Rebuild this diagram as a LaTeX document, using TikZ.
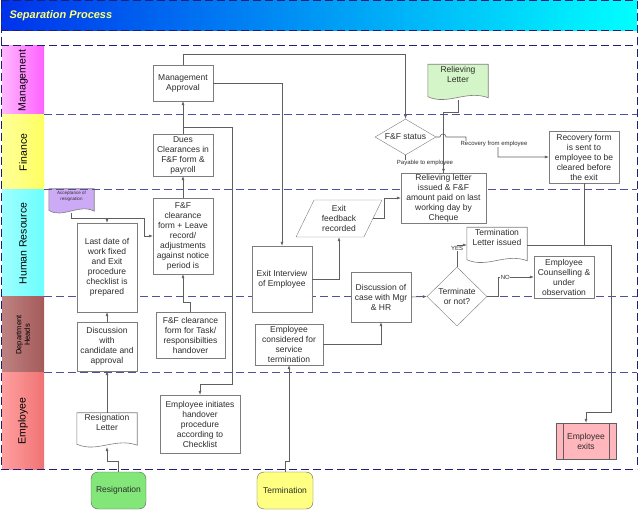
\documentclass[tikz,border=0pt]{standalone}
\usepackage{fontspec}
\setmainfont{Liberation Sans}
\usetikzlibrary{shapes.geometric,arrows.meta,calc,backgrounds}

\definecolor{framenavy}{RGB}{30,30,120}
\definecolor{lanenavy}{RGB}{80,80,160}
\definecolor{boxline}{RGB}{125,125,125}
\definecolor{boxtext}{RGB}{45,45,45}
\definecolor{connline}{RGB}{95,95,95}
\definecolor{titleyellow}{RGB}{255,255,120}
\definecolor{acceptfill}{RGB}{205,170,245}
\definecolor{relieffill}{RGB}{212,245,200}
\definecolor{resignfill}{RGB}{130,230,120}
\definecolor{termfill}{RGB}{255,255,130}
\definecolor{exitfill}{RGB}{255,182,188}

% outline of a document symbol behind node #1, filled with #2
\newcommand{\docoutline}[2]{%
  \begin{scope}[on background layer]
    \path[draw=boxline,fill=#2,line width=0.6pt] (#1.north west) -- (#1.north east)
      -- ($(#1.south east)+(0,-2)$) .. controls ($(#1.south)+(8,-10)$) and ($(#1.south)+(-10,6)$) .. ($(#1.south west)+(0,-3)$) -- cycle;
  \end{scope}}

\begin{document}
\begin{tikzpicture}[x=1pt,y=-1pt,
    txt/.style={text=boxtext,align=center,font=\fontsize{8.5}{10}\selectfont},
    box/.style={txt,draw=boxline,fill=white,inner sep=1pt},
    docbox/.style={txt,inner sep=1pt},
    decision/.style={box,diamond,inner sep=0pt},
    terminal/.style={box,draw=connline,rounded corners=7pt},
    lbl/.style={text=boxtext,font=\fontsize{6}{7}\selectfont,fill=white,inner sep=0.5pt},
    border/.style={draw=framenavy,line width=1pt,dash pattern=on 8pt off 4pt},
    sep/.style={draw=lanenavy,line width=1pt,dash pattern=on 8pt off 4pt},
    line/.style={draw=connline,line width=0.6pt},
    conn/.style={line,-{Latex[length=4pt,width=3pt]}}]

\useasboundingbox (0,0) rectangle (640,510);

% title and lanes
\fill[left color={rgb,255:red,0;green,50;blue,235},right color=cyan] (1,1) rectangle (637,31);
\node[anchor=west,text=titleyellow,font=\fontsize{11}{13}\selectfont\bfseries\itshape] (title) at (6,16) {Separation Process};

\fill[left color=magenta!28,middle color=magenta!10,right color=magenta!62] (2,46) rectangle (44,115);
\fill[left color=yellow!40,middle color=yellow!22,right color=yellow!62] (2,115) rectangle (44,190);
\fill[left color=cyan!38,middle color=cyan!18,right color=cyan!58] (2,190) rectangle (44,297);
\fill[left color={rgb,255:red,190;green,130;blue,130},middle color={rgb,255:red,228;green,195;blue,195},right color={rgb,255:red,165;green,90;blue,90}] (2,297) rectangle (44,373);
\fill[left color={rgb,255:red,255;green,160;blue,160},middle color={rgb,255:red,255;green,200;blue,200},right color={rgb,255:red,240;green,115;blue,115}] (2,373) rectangle (44,469);

\node[rotate=90,font=\fontsize{10.5}{12}\selectfont] (lmgmt) at (23,80.5) {Management};
\node[rotate=90,font=\fontsize{10.5}{12}\selectfont] (lfin) at (23,152.5) {Finance};
\node[rotate=90,font=\fontsize{10.5}{12}\selectfont] (lhr) at (23,243.5) {Human Resource};
\node[rotate=90,align=center,font=\fontsize{7.5}{8.5}\selectfont] (ldept) at (23,335) {Department\\Heads};
\node[rotate=90,font=\fontsize{10.5}{12}\selectfont] (lemp) at (23,421) {Employee};

\draw[border] (1,1) -- (637,1);
\draw[border] (1,31) -- (637,31);
\draw[border] (1,46) -- (637,46);
\draw[border] (1,1) -- (1,469);
\draw[border] (637,1) -- (637,469);
\draw[sep] (44,115) -- (637,115);
\draw[sep] (44,190) -- (637,190);
\draw[sep] (44,297) -- (637,297);
\draw[sep] (44,373) -- (637,373);
\draw[border] (1,469) -- (637,469);

% nodes
\node[box,minimum width=60,minimum height=36] (mgmt) at (183,83) {Management\\Approval};
\node[box,minimum width=60,minimum height=42] (dues) at (183,155) {Dues\\Clearances in\\F\&F form \&\\payroll};
\node[box,minimum width=60,minimum height=76] (ffclear) at (183,236) {F\&F\\clearance\\form + Leave\\record/\\adjustments\\against notice\\period is};
\node[docbox,minimum width=45,minimum height=24,font=\fontsize{4.5}{5.5}\selectfont] (accept) at (71.5,201) {Acceptance of\\resignation\\[5pt]};
\docoutline{accept}{acceptfill}
\node[box,minimum width=60,minimum height=89] (lastdate) at (107,267.5) {Last date of\\work fixed\\and Exit\\procedure\\checklist is\\prepared};
\node[box,minimum width=60,minimum height=49] (discuss) at (107,346.5) {Discussion\\with\\candidate and\\approval};
\node[box,minimum width=69,minimum height=46] (ffform) at (190.5,335) {F\&F clearance\\form for Task/\\responsibilties\\handover};
\node[docbox,minimum width=60,minimum height=34] (resletter) at (107,430) {Resignation\\Letter\\[5pt]};
\docoutline{resletter}{white}
\node[box,minimum width=80,minimum height=58] (initiates) at (200,424) {Employee initiates\\handover\\procedure\\according to\\Checklist};
\node[terminal,fill=resignfill,minimum width=55,minimum height=37] (resign) at (118.5,490.5) {Resignation};
\node[terminal,fill=termfill,minimum width=56,minimum height=37] (term) at (285,490.5) {Termination};
\node[box,minimum width=68,minimum height=41] (considered) at (289,344.5) {Employee\\considered for\\service\\termination};
\node[box,minimum width=60,minimum height=66] (exitint) at (282,279) {Exit Interview\\of Employee};
\node[box,trapezium,trapezium left angle=65,trapezium right angle=115,trapezium stretches=true,minimum width=86,minimum height=37] (feedback) at (339,218.5) {Exit\\feedback\\recorded};
\node[box,minimum width=60,minimum height=50] (casemgr) at (381,297) {Discussion of\\case with Mgr\\\& HR};
\node[decision,aspect=1,minimum width=60,minimum height=59] (terminate) at (457,296.5) {Terminate\\or not?};
\node[docbox,minimum width=60,minimum height=35] (termletter) at (497,245) {Termination\\Letter issued\\[5pt]};
\docoutline{termletter}{white}
\node[box,minimum width=60,minimum height=42] (counsel) at (564,277) {Employee\\Counselling \&\\under\\observation};
\node[box,fill=exitfill,draw=connline,minimum width=60,minimum height=36] (exits) at (586,441) {Employee\\exits};
\draw[connline] ($(exits.north west)+(7,0)$) -- ($(exits.south west)+(7,0)$);
\draw[connline] ($(exits.north east)+(-7,0)$) -- ($(exits.south east)+(-7,0)$);
\node[box,minimum width=85,minimum height=50] (issued) at (443.5,198) {Relieving letter\\issued \& F\&F\\amount paid on last\\working day by\\Cheque};
\node[decision,aspect=1.7,minimum width=61,minimum height=36] (fstat) at (405.5,137) {F\&F status};
\node[box,minimum width=70,minimum height=52] (recovery) at (584,157) {Recovery form\\is sent to\\employee to be\\cleared before\\the exit};
\node[docbox,minimum width=60,minimum height=35] (relletter) at (458,82) {Relieving\\Letter\\[5pt]};
\docoutline{relletter}{relieffill}

% connectors
\draw[conn] (resign.north) -- (118.5,461) -| (resletter.south);
\draw[conn] (resletter.north) -- (discuss.south);
\draw[conn] (discuss.north) -- (lastdate.south);
\draw[conn] (accept.south) |- (107,218) -- (lastdate.north);
\draw[conn] (accept.south) |- (144,218) |- (ffclear.west);
\draw[conn] (ffform.north) |- (183,302) -- (ffclear.south);
\draw[conn] (ffclear.north) -- (dues.south);
\draw[conn] (dues.north) -- (mgmt.south);
\draw[conn] (dues.north) |- (232,127) |- (200,384) -- (initiates.north);
\draw[conn] (mgmt.north) |- (405.5,54) -- (fstat.north);
\draw[conn] (mgmt.east) -| (exitint.north);
\draw[conn] (exitint.east) -| (feedback.south);
\draw[conn] (feedback.east) -- ++(11,0) |- (issued.west);
\draw[conn] (considered.east) -| (casemgr.south);
\draw[conn] (term.north) -- (285,461) -| (considered.south);
\draw[conn] (casemgr.east) -- (terminate.west);
\draw[conn] (terminate.north) |- node[lbl,pos=0.42] (yes) {YES} (termletter.west);
\draw[conn] (terminate.east) -- ++(11,0) |- node[lbl,pos=0.6] (no) {NO} (counsel.west);
\draw[conn] (termletter.east) -| (611,412) -| (exits.north);
\draw[line] (recovery.south) -- (recovery.south |- termletter.east);
\draw[conn] (fstat.east) -- (440,137) arc[start angle=180,end angle=0,radius=3pt] -- (466,137) -- (466,144) -- (498,144) -- (498,157) -- (recovery.west);
\node[lbl] (recovlbl) at (494,144) {Recovery from employee};
\draw[line] (fstat.south) -- (405.5,163) -| (issued.north);
\node[lbl] (paylbl) at (425,163) {Payable to employee};
\draw[conn] (relletter.south) |- (443.5,112) -- (issued.north);

\end{tikzpicture}
\end{document}
